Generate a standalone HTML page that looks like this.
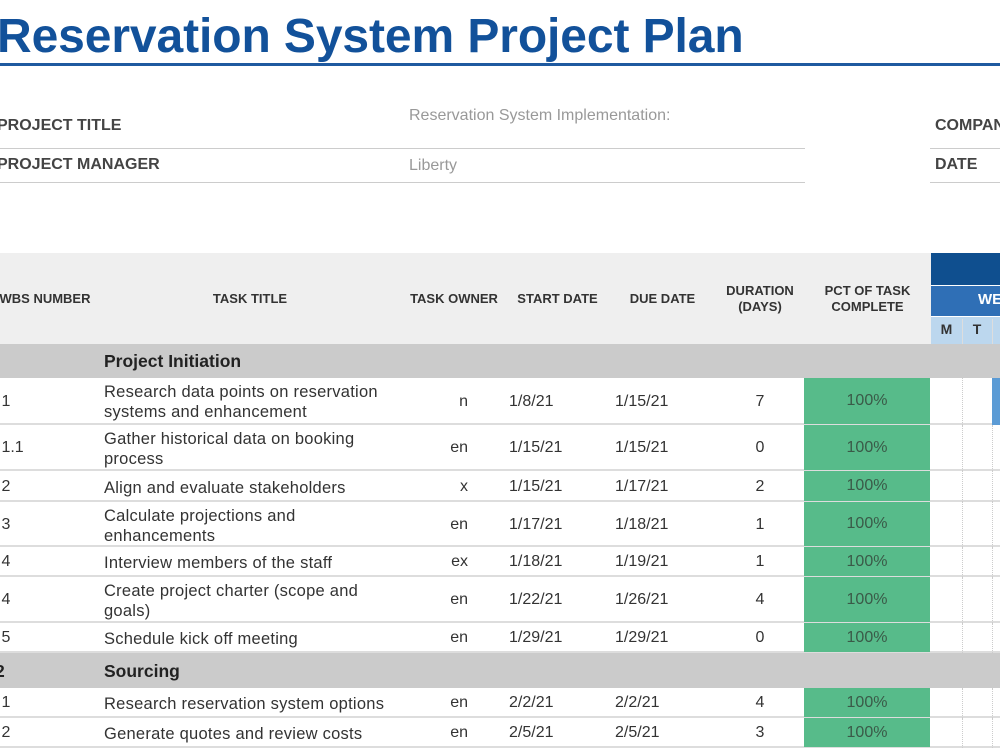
<!DOCTYPE html>
<html><head><meta charset="utf-8"><style>
body{margin:0;width:1000px;height:750px;overflow:hidden;background:#fff;font-family:"Liberation Sans",sans-serif;position:relative;color:#333}
.a{position:absolute;white-space:nowrap}
.h{font-size:13px;font-weight:bold;color:#333;text-align:center;line-height:16px}
</style></head><body>
<div class="a" style="left:-3px;top:9px;font-size:48px;font-weight:bold;color:#12519a;letter-spacing:-0.1px">Reservation System Project Plan</div>
<div class="a" style="left:0;top:63px;width:1000px;height:3px;background:#1f5aa0"></div>

<div class="a" style="left:-3px;top:117px;font-size:16px;font-weight:bold;color:#444">PROJECT TITLE</div>
<div class="a" style="left:409px;top:107px;font-size:16px;color:#999">Reservation System Implementation:</div>
<div class="a" style="left:0;top:148px;width:805px;height:1px;background:#ccc"></div>
<div class="a" style="left:-3px;top:156px;font-size:16px;font-weight:bold;color:#444">PROJECT MANAGER</div>
<div class="a" style="left:409px;top:157px;font-size:16px;color:#999">Liberty</div>
<div class="a" style="left:0;top:182px;width:805px;height:1px;background:#ccc"></div>
<div class="a" style="left:935px;top:117px;font-size:16px;font-weight:bold;color:#444">COMPANY</div>
<div class="a" style="left:930px;top:148px;width:70px;height:1px;background:#ccc"></div>
<div class="a" style="left:935px;top:156px;font-size:16px;font-weight:bold;color:#444">DATE</div>
<div class="a" style="left:930px;top:182px;width:70px;height:1px;background:#ccc"></div>

<div class="a" style="left:0;top:253px;width:931px;height:91px;background:#efefef"></div>
<div class="a h" style="left:-5px;top:291px;width:100px">WBS NUMBER</div>
<div class="a h" style="left:150px;top:291px;width:200px">TASK TITLE</div>
<div class="a h" style="left:405px;top:291px;width:98px">TASK OWNER</div>
<div class="a h" style="left:505px;top:291px;width:105px">START DATE</div>
<div class="a h" style="left:610px;top:291px;width:105px">DUE DATE</div>
<div class="a h" style="left:715px;top:283px;width:90px">DURATION<br>(DAYS)</div>
<div class="a h" style="left:805px;top:283px;width:125px">PCT OF TASK<br>COMPLETE</div>

<div class="a" style="left:931px;top:253px;width:69px;height:32px;background:#0f4f8f"></div>
<div class="a" style="left:931px;top:286px;width:69px;height:30px;background:#2f6fb6"></div>
<div class="a" style="left:978px;top:291px;font-size:15px;font-weight:bold;color:#fff">WE</div>
<div class="a" style="left:931px;top:317px;width:69px;height:27px;background:#bcd7ee"></div>
<div class="a" style="left:931px;top:319px;width:31px;height:25px;border-right:1px solid #ddd;font-size:14px;font-weight:bold;text-align:center;line-height:20px">M</div>
<div class="a" style="left:962px;top:319px;width:30px;height:25px;border-right:1px solid #ddd;font-size:14px;font-weight:bold;text-align:center;line-height:20px">T</div>

<div id="rows"></div>
<script>
const wbs=["1.1","1.1.1","1.2","1.3","1.4","1.4","1.5","2.1","2.2"];
const titles=["Research data points on reservation|systems and enhancement","Gather historical data on booking|process","Align and evaluate stakeholders","Calculate projections and|enhancements","Interview members of the staff","Create project charter (scope and|goals)","Schedule kick off meeting","Research reservation system options","Generate quotes and review costs"];
const owners=["n","en","x","en","ex","en","en","en","en"];
const starts=["1/8/21","1/15/21","1/15/21","1/17/21","1/18/21","1/22/21","1/29/21","2/2/21","2/5/21"];
const dues=["1/15/21","1/15/21","1/17/21","1/18/21","1/19/21","1/26/21","1/29/21","2/2/21","2/5/21"];
const durations=[7,0,2,1,1,4,0,4,3];
const pcts=["100%","100%","100%","100%","100%","100%","100%","100%","100%"];
const tops=[378,425,471,502,547,577,623,688,718];
const heights=[47,46,31,45,30,46,30,30,30];
const R=document.getElementById('rows');
function div(style,text){const d=document.createElement('div');d.className='a';d.style.cssText=style;if(text!==undefined)d.innerHTML=text;R.appendChild(d);return d;}
let s1=div('left:0;top:344px;width:931px;height:34px;background:#cbcbcb');


let s1t=div('left:104px;top:351px;font-size:17.5px;font-weight:bold;color:#222','Project Initiation');


let s1g=div('left:931px;top:344px;width:69px;height:34px;background:#cbcbcb');


let s2=div('left:0;top:653px;width:1000px;height:35px;background:#cbcbcb');


let s2n=div('left:-5px;top:661px;font-size:17.5px;font-weight:bold;color:#222','2');


let s2t=div('left:104px;top:661px;font-size:17.5px;font-weight:bold;color:#222','Sourcing');


for(let i=0;i<wbs.length;i++){
 const t=tops[i],h=heights[i],mid=t+h/2-9;
 const row=div(`left:0;top:${t}px;width:1000px;height:${h}px;border-bottom:2px solid #ddd;box-sizing:border-box`);
 
 
 const w=div(`left:-3px;top:${mid}px;`+'font-size:16px',wbs[i].slice(1));
 
 
 const lines=titles[i].split('|');
 const tt=div(`left:104px;top:${lines.length>1?t+4:mid}px;font-size:16.5px;letter-spacing:0.25px;line-height:20px`,lines.join('<br>'));
 
 
 const o=div(`left:405px;top:${mid}px;width:63px;text-align:right;font-size:16px`,owners[i]);
 
 
 const sd=div(`left:509px;top:${mid}px;font-size:16px`,starts[i]);
 
 
 const dd=div(`left:615px;top:${mid}px;font-size:16px`,dues[i]);
 
 
 const du=div(`left:715px;top:${mid}px;width:90px;text-align:center;font-size:16px`,String(durations[i]));
 
 
 const p=div(`left:804px;top:${t}px;width:126px;height:${h-1}px;background:#57bb8a;font-size:16px;text-align:center;line-height:${h-1}px;color:#3a5a48`,pcts[i]);
 
 
 const g1=div(`left:962px;top:${t}px;width:0;height:${h}px;border-left:1px dotted #ccc`);
 
 
 const g2=div(`left:992px;top:${t}px;width:0;height:${h}px;border-left:1px dotted #ccc`);
 
 
}
const bar=div('left:992px;top:378px;width:8px;height:47px;background:#5b9bd5');


</script>
</body></html>
